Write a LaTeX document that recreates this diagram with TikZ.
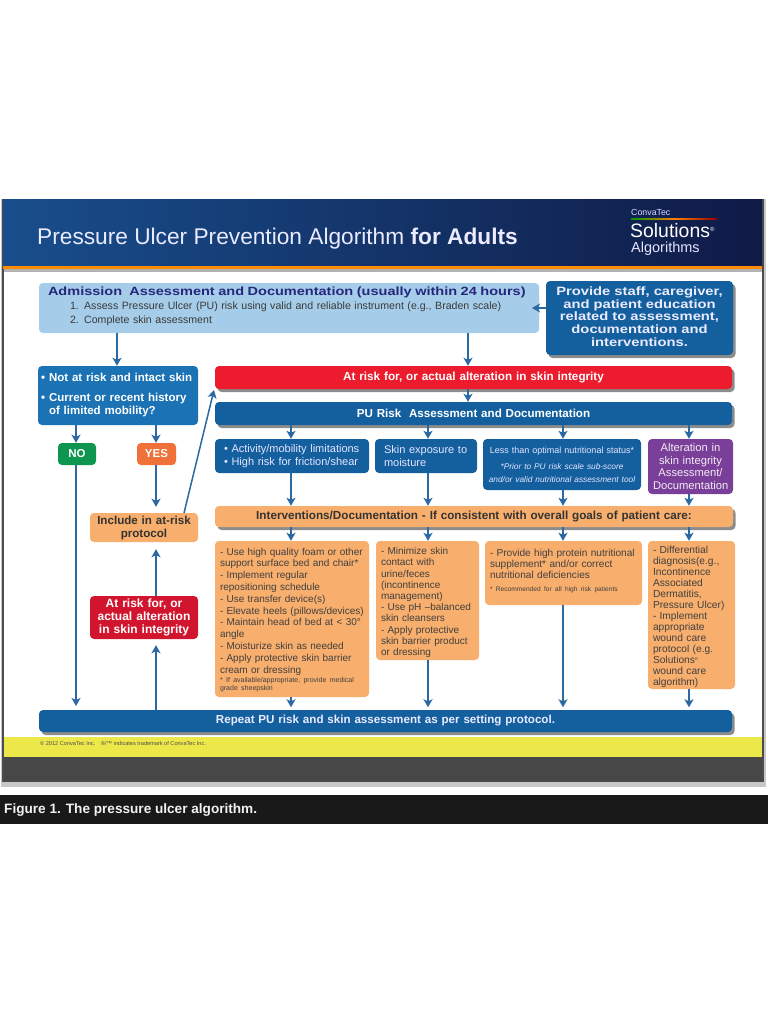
\documentclass[tikz,border=0pt]{standalone}
\usepackage{fontspec}
\setmainfont{Liberation Sans}
\newfontfamily\widebold[FakeStretch=1.22,BoldFont={Liberation Sans Bold}]{Liberation Sans}
\usetikzlibrary{arrows.meta,shadows,calc}
\definecolor{lblue}{HTML}{A5CDE9}
\definecolor{mblue}{HTML}{1B72B4}
\definecolor{dblue}{HTML}{14609F}
\definecolor{arrowc}{HTML}{2B69A3}
\definecolor{orbox}{HTML}{F8AE6C}
\definecolor{redbar}{HTML}{EC1C2E}
\definecolor{redbox}{HTML}{D2152F}
\definecolor{purp}{HTML}{7A3F98}
\definecolor{grn}{HTML}{0E9650}
\definecolor{yesor}{HTML}{EF7038}
\definecolor{ink}{HTML}{3A3A3A}
\definecolor{bandyellow}{rgb}{0.93,0.91,0.29}
\newcommand\bx[7]{\node[base box,#6,minimum width={#4-#2},minimum height={#5-#3},text width={#4-#2-10}] (#1) at ({(#2+#4)/2},{(#3+#5)/2}) {#7};}
\newcommand\itm{\par\rightskip=-6pt plus 1fil\relax\hangindent=6.5pt\hangafter=1 -\hspace{3.2pt}}
\tikzset{
  base box/.style={rounded corners=4pt,inner xsep=5pt,inner ysep=0pt,align=left},
  shad/.style={drop shadow={shadow xshift=2.5pt,shadow yshift=-3pt,opacity=.45,fill=black}},
  lightbox/.style={fill=lblue,text=ink,font=\fontsize{10.6}{14}\selectfont},
  wbox/.style={fill=mblue,text=white,font=\bfseries\fontsize{11.5}{13}\selectfont},
  pubox/.style={fill=dblue,text=white,align=center,font=\bfseries\fontsize{11.6}{12}\selectfont},
  bluebox/.style={fill=dblue,text=white!90!blue,font=\fontsize{11}{13}\selectfont},
  purple box/.style={fill=purp,text=white!90!purp,align=center,font=\fontsize{11.2}{12.7}\selectfont},
  orbar/.style={fill=orbox,text=black!80,align=center,font=\bfseries\fontsize{11.7}{13}\selectfont},
  colbox/.style={fill=orbox,text=black!75,font=\fontsize{10}{11.8}\selectfont},
  arr/.style={draw=arrowc,line width=1.5pt,-{Stealth[length=8pt,width=9pt,inset=2pt]}},
  lab/.style={inner sep=0pt,anchor=base west},
}
\begin{document}
\begin{tikzpicture}[x=1pt,y=-1pt]
\useasboundingbox (0,0) rectangle (768,1024);
% page frame
\fill[white] (0,0) rectangle (768,1024);
\fill[black!22] (1,199) rectangle (766,787);
\fill[black!70] (2,199) rectangle (764,782);
\fill[white] (4,268) rectangle (762,738);
\fill[black!30] (4,269) rectangle (762,272);
\fill[bandyellow] (4,737) rectangle (762,757);
\fill[black!72] (4,757) rectangle (762,781);
\shade[left color={rgb,255:red,24;green,78;blue,140},right color={rgb,255:red,16;green,26;blue,70}] (3,200) rectangle (762,266);
\fill[orange!90!yellow] (3,266) rectangle (762,268.5);
\fill[black!90!white] (0,795) rectangle (768,824);
% header
\node[lab,text=white!92!blue,font=\fontsize{22.7}{26}\selectfont] (title) at (37,244) {Pressure Ulcer Prevention Algorithm \textbf{for Adults}};
\node[lab,text=white!85!blue,font=\fontsize{8.8}{9}\selectfont] (brand) at (631,216) {ConvaTec};
\shade[left color=green!60!black,right color=red!60!black,middle color=orange] (631,218.5) rectangle (717,220);
\node[lab,text=white,font=\fontsize{19.4}{20}\selectfont] (sol) at (630,237.5) {Solutions\raisebox{6pt}{\fontsize{6}{6}\selectfont ®}};
\node[lab,text=white!90!blue,font=\fontsize{14.5}{15}\selectfont] (alg) at (631,252) {Algorithms};
\node[lab,text=white!95!black,font=\bfseries\fontsize{13.6}{14}\selectfont] (fig) at (4,813) {Figure 1. The pressure ulcer algorithm.};
\node[lab,text=black!70,font=\fontsize{5.6}{6}\selectfont] (copy) at (40,745) {© 2012 ConvaTec Inc.\quad ®/™ indicates trademark of ConvaTec Inc.};
% boxes
\bx{adm}{39}{283}{539}{333}{lightbox}{\rightskip=-8pt plus 1fil\relax\hspace{4pt}{\widebold\bfseries\fontsize{11.9}{14}\selectfont\color{blue!40!black!85}Admission\ \ Assessment and Documentation (usually within 24 hours)}\\
\hspace{26pt}1. Assess Pressure Ulcer (PU) risk using valid and reliable instrument (e.g., Braden scale)\\
\hspace{26pt}2. Complete skin assessment\par\kern3pt}
\bx{prov}{546}{281}{733}{355}{fill=dblue,shad,align=center,text=white!92!blue,font=\fontsize{12.1}{12.6}\selectfont\widebold\bfseries}{Provide staff, caregiver,\\and patient education\\related to assessment,\\documentation and\\interventions.\par\kern3pt}
\bx{nar}{38}{366}{198}{425}{wbox}{\rightskip=-10pt plus 1fil\relax\hspace{-2pt}•\hspace{4pt}Not at risk and intact skin\\[7pt]\hspace{-2pt}•\hspace{4pt}Current or recent history\\\hspace{6pt}of limited mobility?}
\bx{no}{58}{443}{96}{465}{fill=grn,text=white,align=center,font=\bfseries\fontsize{11.5}{12}\selectfont}{NO}
\bx{yes}{137}{443}{176}{465}{fill=yesor,text=white,align=center,font=\bfseries\fontsize{11.5}{12}\selectfont}{YES}
\bx{redb}{215}{366}{732}{389}{fill=redbar,text=white,shad,align=center,font=\bfseries\fontsize{11.7}{12}\selectfont}{At risk for, or actual alteration in skin integrity}
\bx{pu}{215}{402}{732}{425}{pubox,shad}{PU Risk\ \ Assessment and Documentation}
\bx{act}{215}{439}{369}{473}{bluebox}{\hspace{4pt}• Activity/mobility limitations\\\hspace{4pt}• High risk for friction/shear}
\bx{exp}{375}{439}{477}{473}{bluebox}{\hspace{4pt}Skin exposure to\\\hspace{4pt}moisture}
\bx{nut}{483}{439}{641}{490}{bluebox,align=center,font=\fontsize{9}{13}\selectfont}{\mbox{Less than optimal nutritional status*}\\[3pt]{\itshape\fontsize{8.3}{12.8}\selectfont \mbox{*Prior to PU risk scale sub-score}\\\mbox{and/or valid nutritional assessment tool}}}
\bx{alt}{648}{439}{733}{494}{purple box}{Alteration in\\skin integrity\\Assessment/\\\mbox{Documentation}}
\bx{int}{215}{506}{733}{527}{orbar,shad}{Interventions/Documentation - If consistent with overall goals of patient care:}
\bx{incl}{90}{513}{198}{542}{orbar,font=\bfseries\fontsize{11.6}{13}\selectfont}{Include in at-risk\\protocol}
\bx{arb}{90}{596}{198}{639}{fill=redbox,text=white,align=center,font=\bfseries\fontsize{12}{13}\selectfont}{At risk for, or\\actual alteration\\in skin integrity}
\bx{c1}{215}{541}{369}{697}{colbox}{\itm Use high quality foam or other\\support surface bed and chair*\itm Implement regular\\repositioning schedule\itm Use transfer device(s)\itm Elevate heels (pillows/devices)\itm Maintain head of bed at < 30°\\angle\itm Moisturize skin as needed\itm Apply protective skin barrier\\cream or dressing\par\vspace{1pt}{\fontsize{7}{8}\selectfont\hangindent=5pt\hangafter=1 * If available/appropriate, provide medical\\grade sheepskin\par}\kern3pt}
\bx{c2}{376}{541}{479}{660}{colbox,font=\fontsize{10}{11.2}\selectfont}{\itm Minimize skin\\contact with\\urine/feces\\(incontinence\\management)\itm Use pH --balanced\\skin cleansers\itm Apply protective\\skin barrier product\\or dressing}
\bx{c3}{485}{541}{642}{605}{colbox,font=\fontsize{10.1}{11}\selectfont}{\itm Provide high protein nutritional\\supplement* and/or correct\\nutritional deficiencies\par\vspace{6pt}{\fontsize{6.6}{7}\selectfont * Recommended for all high risk patients\par}\kern8pt}
\bx{c4}{648}{541}{735}{689}{colbox,font=\fontsize{10.2}{11}\selectfont}{\itm Differential\\diagnosis(e.g.,\\Incontinence\\Associated\\Dermatitis,\\Pressure Ulcer)\itm Implement\\appropriate\\wound care\\protocol (e.g.\\Solutions\raisebox{3pt}{\fontsize{4}{4}\selectfont ®}\\wound care\\algorithm)}
\bx{rep}{39}{710}{732}{732}{fill=dblue,text=white!92!blue,shad,align=center,font=\bfseries\fontsize{11.6}{12}\selectfont}{\raisebox{-1.5pt}{Repeat PU risk and skin assessment as per setting protocol.}}
% connector guides
\coordinate (xa) at (117,0);
\coordinate (xb) at (468,0);
\coordinate (xn) at (76,0);
\coordinate (xy) at (156,0);
\coordinate (x1) at (291,0);
\coordinate (x2) at (428,0);
\coordinate (x3) at (563,0);
\coordinate (x4) at (689,0);
\coordinate (provin) at (532,308);
\coordinate (endno) at (76,706);
\coordinate (inclout) at (184,513);
\coordinate (redin) at (214,390);
% connectors
\draw[arr] (adm.south -| xa) -- (nar.north -| xa);
\draw[arr] (prov.west |- provin) -- (provin);
\draw[arr] (adm.south -| xb) -- (redb.north -| xb);
\draw[arr] (redb.south -| xb) -- (pu.north -| xb);
\draw[arr] (nar.south -| xn) -- (no.north -| xn);
\draw[arr] (nar.south -| xy) -- (yes.north -| xy);
\draw[arr] (no.south -| xn) -- (endno);
\draw[arr] (yes.south -| xy) -- ($(incl.north -| xy)+(0,-6)$);
\draw[arr] (inclout) -- (redin);
\draw[arr] (arb.north -| xy) -- ($(incl.south -| xy)+(0,7)$);
\draw[arr] (rep.north -| xy) -- ($(arb.south -| xy)+(0,6)$);
\foreach \xx/\bb/\cc in {x1/act/c1,x2/exp/c2,x3/nut/c3,x4/alt/c4}{
  \draw[arr] (pu.south -| \xx) -- (\bb.north -| \xx);
  \draw[arr] (\bb.south -| \xx) -- (int.north -| \xx);
  \draw[arr] (int.south -| \xx) -- (\cc.north -| \xx);
  \draw[arr] (\cc.south -| \xx) -- ($(rep.north -| \xx)+(0,-2.5)$);
}
\end{tikzpicture}
\end{document}
